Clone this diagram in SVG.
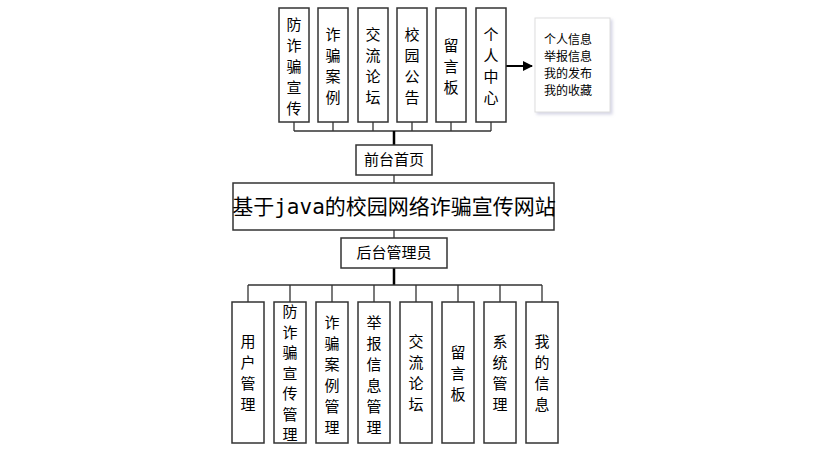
<svg xmlns="http://www.w3.org/2000/svg" width="840" height="454" viewBox="0 0 840 454">
<defs>
<style>
.b{fill:#fff;stroke:#333;stroke-width:1.5}
.t{font-family:"Noto Sans CJK SC","Liberation Sans",sans-serif;font-size:15px;fill:#000;text-anchor:middle}
.l{fill:none;stroke:#333;stroke-width:1.3}
</style>
<marker id="a" markerWidth="10" markerHeight="10" refX="9" refY="5" orient="auto" markerUnits="userSpaceOnUse"><path d="M0,0 L10,5 L0,10 Z" fill="#000"/></marker>
<filter id="s"><feDropShadow dx="2" dy="2" stdDeviation="1.5" flood-color="#aac" flood-opacity="0.5"/></filter>
</defs>
<rect width="840" height="454" fill="#fff"/>
<g id="connectors">
<path class="l" d="M294,122V131M333,122V131M373,122V131M412,122V131M451,122V131M491,122V131M294,131H491"/>
<path d="M394,131V145M394,268V285" stroke="#000" stroke-width="2.5"/>
<path class="l" d="M394,175V183M394,230V238"/>
<path class="l" d="M248,285H542M248,285V302M290,285V302M332,285V302M374,285V302M416,285V302M458,285V302M500,285V302M542,285V302"/>
<path d="M506,66H532" stroke="#000" stroke-width="2" marker-end="url(#a)"/>
</g>
<g id="t1"><rect class="b" x="279" y="8" width="30" height="114"/><text class="t"><tspan x="294" y="30">防</tspan><tspan x="294" y="51">诈</tspan><tspan x="294" y="72">骗</tspan><tspan x="294" y="93">宣</tspan><tspan x="294" y="114">传</tspan></text></g>
<g id="t2"><rect class="b" x="318" y="8" width="30" height="114"/><text class="t"><tspan x="333" y="40">诈</tspan><tspan x="333" y="61">骗</tspan><tspan x="333" y="82">案</tspan><tspan x="333" y="103">例</tspan></text></g>
<g id="t3"><rect class="b" x="358" y="8" width="30" height="114"/><text class="t"><tspan x="373" y="40">交</tspan><tspan x="373" y="61">流</tspan><tspan x="373" y="82">论</tspan><tspan x="373" y="103">坛</tspan></text></g>
<g id="t4"><rect class="b" x="397" y="8" width="30" height="114"/><text class="t"><tspan x="412" y="40">校</tspan><tspan x="412" y="61">园</tspan><tspan x="412" y="82">公</tspan><tspan x="412" y="103">告</tspan></text></g>
<g id="t5"><rect class="b" x="436" y="8" width="30" height="114"/><text class="t"><tspan x="451" y="51">留</tspan><tspan x="451" y="72">言</tspan><tspan x="451" y="93">板</tspan></text></g>
<g id="t6"><rect class="b" x="476" y="8" width="30" height="114"/><text class="t"><tspan x="491" y="40">个</tspan><tspan x="491" y="61">人</tspan><tspan x="491" y="82">中</tspan><tspan x="491" y="103">心</tspan></text></g>
<g id="info"><rect x="535" y="18" width="75" height="94" fill="#fff" stroke="#ddd" filter="url(#s)"/><text class="t" style="font-size:12px"><tspan x="568" y="44">个人信息</tspan><tspan x="568" y="61">举报信息</tspan><tspan x="568" y="78">我的发布</tspan><tspan x="568" y="95">我的收藏</tspan></text></g>
<g id="front"><rect class="b" x="356" y="145" width="76" height="30"/><text class="t" x="394" y="165">前台首页</text></g>
<g id="main"><rect class="b" x="233" y="183" width="321" height="47"/><text class="t" x="394" y="214" style="font-size:21px">基于<tspan font-family="'DejaVu Sans Mono',monospace">java</tspan>的校园网络诈骗宣传网站</text></g>
<g id="admin"><rect class="b" x="341" y="238" width="106" height="30"/><text class="t" x="394" y="258">后台管理员</text></g>
<g id="b1"><rect class="b" x="232" y="302" width="32" height="141"/><text class="t"><tspan x="248" y="347">用</tspan><tspan x="248" y="368">户</tspan><tspan x="248" y="389">管</tspan><tspan x="248" y="410">理</tspan></text></g>
<g id="b2"><rect class="b" x="274" y="302" width="32" height="141"/><text class="t"><tspan x="290" y="317">防</tspan><tspan x="290" y="337.5">诈</tspan><tspan x="290" y="358">骗</tspan><tspan x="290" y="378.5">宣</tspan><tspan x="290" y="399">传</tspan><tspan x="290" y="419.5">管</tspan><tspan x="290" y="440">理</tspan></text></g>
<g id="b3"><rect class="b" x="316" y="302" width="32" height="141"/><text class="t"><tspan x="332" y="328">诈</tspan><tspan x="332" y="349">骗</tspan><tspan x="332" y="370">案</tspan><tspan x="332" y="391">例</tspan><tspan x="332" y="412">管</tspan><tspan x="332" y="433">理</tspan></text></g>
<g id="b4"><rect class="b" x="358" y="302" width="32" height="141"/><text class="t"><tspan x="374" y="328">举</tspan><tspan x="374" y="349">报</tspan><tspan x="374" y="370">信</tspan><tspan x="374" y="391">息</tspan><tspan x="374" y="412">管</tspan><tspan x="374" y="433">理</tspan></text></g>
<g id="b5"><rect class="b" x="400" y="302" width="32" height="141"/><text class="t"><tspan x="416" y="347">交</tspan><tspan x="416" y="368">流</tspan><tspan x="416" y="389">论</tspan><tspan x="416" y="410">坛</tspan></text></g>
<g id="b6"><rect class="b" x="442" y="302" width="32" height="141"/><text class="t"><tspan x="458" y="358">留</tspan><tspan x="458" y="379">言</tspan><tspan x="458" y="400">板</tspan></text></g>
<g id="b7"><rect class="b" x="484" y="302" width="32" height="141"/><text class="t"><tspan x="500" y="347">系</tspan><tspan x="500" y="368">统</tspan><tspan x="500" y="389">管</tspan><tspan x="500" y="410">理</tspan></text></g>
<g id="b8"><rect class="b" x="526" y="302" width="32" height="141"/><text class="t"><tspan x="542" y="347">我</tspan><tspan x="542" y="368">的</tspan><tspan x="542" y="389">信</tspan><tspan x="542" y="410">息</tspan></text></g>
</svg>
